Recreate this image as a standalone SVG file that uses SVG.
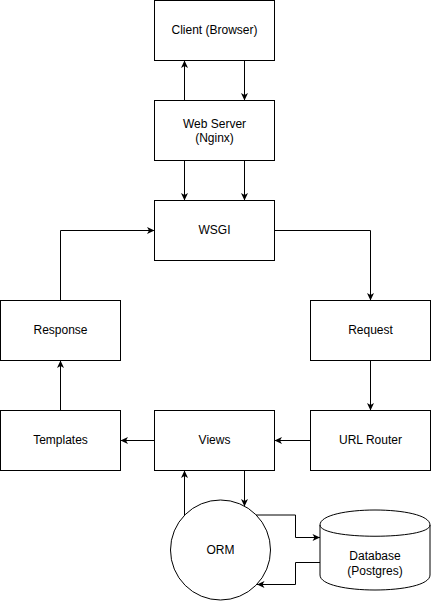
<svg xmlns="http://www.w3.org/2000/svg" width="431" height="601" viewBox="0 0 431 601">
<style>
.n{fill:#fff;stroke:#000;stroke-width:1}
.t{font-family:"Liberation Sans",Arial,sans-serif;font-size:12px;fill:#000;text-anchor:middle}
.e{fill:none;stroke:#000;stroke-width:1;marker-end:url(#a)}
</style>
<defs>
<marker id="a" markerUnits="userSpaceOnUse" viewBox="-8 -4 9 8" refX="0" refY="0" markerWidth="9" markerHeight="8" orient="auto">
<path d="M0,0 L-7.5,-3.5 L-5.5,0 L-7.5,3.5 Z" fill="#000"/>
</marker>
</defs>
<rect width="431" height="601" fill="#fff"/>
<g id="connectors">
<path class="e" d="M184.5,100.5 V60.5"/>
<path class="e" d="M244.5,60.5 V100.5"/>
<path class="e" d="M184.5,160.5 V200.5"/>
<path class="e" d="M244.5,160.5 V200.5"/>
<path class="e" d="M274.5,230.5 H370.5 V300.5"/>
<path class="e" d="M60.5,300.5 V230.5 H154.5"/>
<path class="e" d="M370.5,360.5 V410.5"/>
<path class="e" d="M310.5,440.5 H274.5"/>
<path class="e" d="M154.5,440.5 H120.5"/>
<path class="e" d="M60.5,410.5 V360.5"/>
<path class="e" d="M184.5,515 V470.5"/>
<path class="e" d="M244.5,470.5 V506.5"/>
<path class="e" d="M256,515 H295.5 V537.5 H320"/>
<path class="e" d="M320,562.5 H295.5 V584.5 H257"/>
</g>
<g id="client"><rect class="n" x="154.5" y="0.5" width="120" height="60"/><text class="t" x="214.5" y="34">Client (Browser)</text></g>
<g id="webserver"><rect class="n" x="154.5" y="100.5" width="120" height="60"/><text class="t" x="214.5" y="127.5">Web Server</text><text class="t" x="214.5" y="142">(Nginx)</text></g>
<g id="wsgi"><rect class="n" x="154.5" y="200.5" width="120" height="60"/><text class="t" x="214.5" y="234">WSGI</text></g>
<g id="response"><rect class="n" x="0.5" y="300.5" width="120" height="60"/><text class="t" x="60.5" y="334">Response</text></g>
<g id="request"><rect class="n" x="310.5" y="300.5" width="120" height="60"/><text class="t" x="370.5" y="334">Request</text></g>
<g id="templates"><rect class="n" x="0.5" y="410.5" width="120" height="60"/><text class="t" x="60.5" y="444">Templates</text></g>
<g id="views"><rect class="n" x="154.5" y="410.5" width="120" height="60"/><text class="t" x="214.5" y="444">Views</text></g>
<g id="urlrouter"><rect class="n" x="310.5" y="410.5" width="120" height="60"/><text class="t" x="370.5" y="444">URL Router</text></g>
<g id="orm"><circle class="n" cx="220.5" cy="550" r="50"/><text class="t" x="220.5" y="554">ORM</text></g>
<g id="database">
<path class="n" d="M320,525 C320,505 430,505 430,525 L430,575 C430,595 320,595 320,575 Z"/>
<path fill="none" stroke="#000" d="M320,525 C320,540 430,540 430,525"/>
<text class="t" x="375" y="560">Database</text><text class="t" x="375" y="575">(Postgres)</text>
</g>
</svg>
